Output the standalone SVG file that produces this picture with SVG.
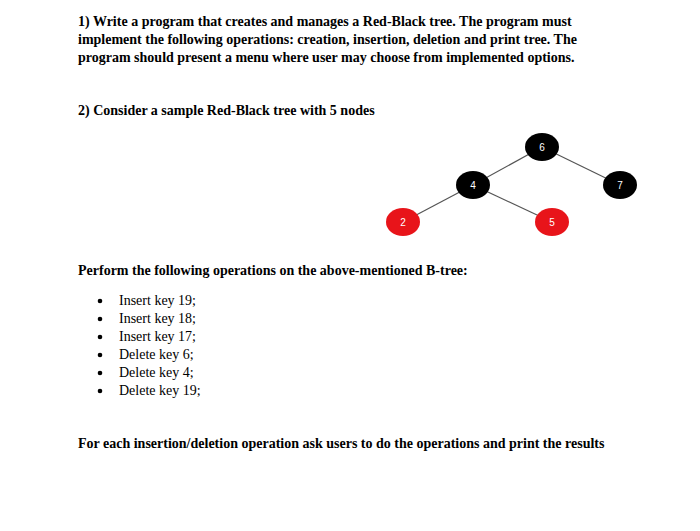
<svg xmlns="http://www.w3.org/2000/svg" width="700" height="531" viewBox="0 0 700 531">
<style>
.t{font-family:"Liberation Serif",serif;font-size:14px;fill:#000}
.b{font-weight:bold}
.n{font-family:"Liberation Sans",sans-serif;font-size:10px;fill:#fff;text-anchor:middle}
.blk{fill:#000}.red{fill:#e8141a}
</style>
<rect width="700" height="531" fill="#fff"/>
<text class="t b" x="78" y="26">1) Write a program that creates and manages a Red-Black tree. The program must</text>
<text class="t b" x="78" y="44">implement the following operations: creation, insertion, deletion and print tree. The</text>
<text class="t b" x="78" y="62">program should present a menu where user may choose from implemented options.</text>
<text class="t b" x="78" y="115">2) Consider a sample Red-Black tree with 5 nodes</text>
<g id="connectors" stroke="#555" stroke-width="1.2">
<line x1="542" y1="147" x2="473" y2="185"/>
<line x1="542" y1="147" x2="620" y2="185"/>
<line x1="473" y1="185" x2="403" y2="222"/>
<line x1="473" y1="185" x2="552" y2="222"/>
</g>
<g id="n6"><ellipse class="blk" cx="542" cy="147" rx="17" ry="14"/><text class="n" x="542" y="151">6</text></g>
<g id="n4"><ellipse class="blk" cx="473" cy="185" rx="17" ry="14"/><text class="n" x="473" y="189">4</text></g>
<g id="n7"><ellipse class="blk" cx="620" cy="185" rx="17" ry="14"/><text class="n" x="620" y="189">7</text></g>
<g id="n2"><ellipse class="red" cx="403" cy="222" rx="17" ry="14"/><text class="n" x="403" y="226">2</text></g>
<g id="n5"><ellipse class="red" cx="552" cy="222" rx="17" ry="14"/><text class="n" x="552" y="226">5</text></g>
<text class="t b" x="78" y="275">Perform the following operations on the above-mentioned B-tree:</text>
<g class="t">
<circle cx="100" cy="301" r="2.3"/><text class="t" x="119" y="305">Insert key 19;</text>
<circle cx="100" cy="319" r="2.3"/><text class="t" x="119" y="323">Insert key 18;</text>
<circle cx="100" cy="337" r="2.3"/><text class="t" x="119" y="341">Insert key 17;</text>
<circle cx="100" cy="355" r="2.3"/><text class="t" x="119" y="359">Delete key 6;</text>
<circle cx="100" cy="373" r="2.3"/><text class="t" x="119" y="377">Delete key 4;</text>
<circle cx="100" cy="391" r="2.3"/><text class="t" x="119" y="395">Delete key 19;</text>
</g>
<text class="t b" x="78" y="448">For each insertion/deletion operation ask users to do the operations and print the results</text>
</svg>
